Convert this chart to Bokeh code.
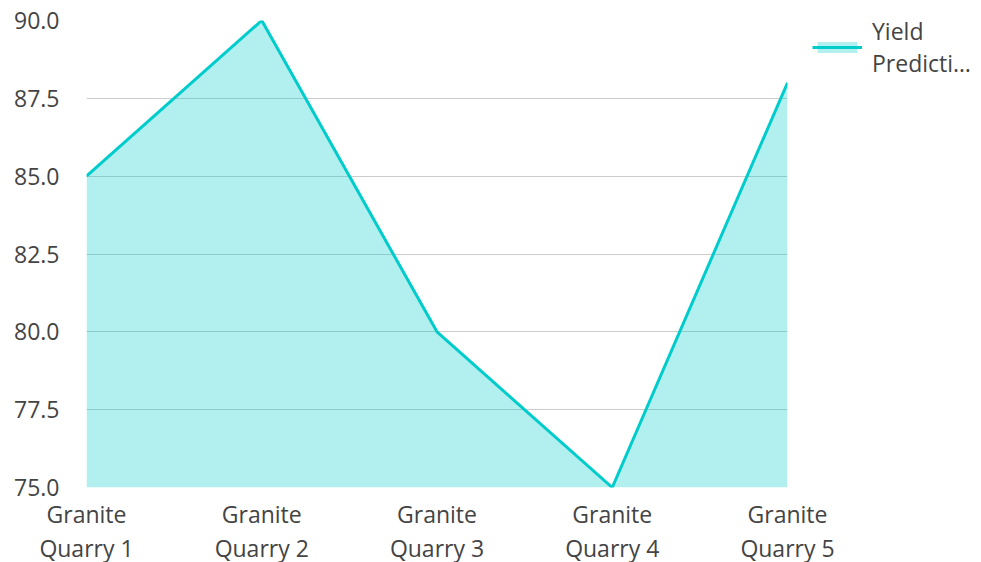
from bokeh.plotting import figure
from bokeh.models import Range1d, FixedTicker, Legend, LegendItem, ColumnDataSource
from bokeh.embed import file_html
from bokeh.resources import INLINE

categories = ["Granite\nQuarry 1", "Granite\nQuarry 2", "Granite\nQuarry 3", "Granite\nQuarry 4", "Granite\nQuarry 5"]
yield_pred = [85, 90, 80, 75, 88]
y_ticks = [75.0, 77.5, 80.0, 82.5, 85.0, 87.5, 90.0]
series_name = "Yield\nPredicti\u2026"

xs = list(range(len(categories)))
src = ColumnDataSource(dict(x=xs, y=yield_pred, base=[y_ticks[0]] * len(xs)))

LINE = "#00CCCC"
FONT = "Open Sans"
TXT = "#444444"
FS = "23px"

p = figure(frame_width=701, frame_height=467, output_backend="svg", toolbar_location=None,
           x_range=Range1d(0, len(xs) - 1), y_range=Range1d(y_ticks[0], y_ticks[-1]),
           min_border_left=86, min_border_top=20, min_border_right=0, min_border_bottom=0)

area = p.varea(x="x", y1="base", y2="y", source=src, fill_color=LINE, fill_alpha=0.3)
line = p.line(x="x", y="y", source=src, line_color=LINE, line_width=3)

p.xgrid.visible = False
p.ygrid.grid_line_color = "#cccccc"
p.ygrid.grid_line_width = 1
p.outline_line_color = None

p.xaxis.ticker = FixedTicker(ticks=xs)
p.xaxis.major_label_overrides = {i: c for i, c in enumerate(categories)}
p.yaxis.ticker = FixedTicker(ticks=y_ticks)
p.yaxis.major_label_overrides = {t: f"{t:.1f}" for t in y_ticks}
for ax in (p.xaxis[0], p.yaxis[0]):
    ax.axis_line_color = None
    ax.major_tick_line_color = None
    ax.minor_tick_line_color = None
    ax.major_label_text_font = FONT
    ax.major_label_text_font_size = FS
    ax.major_label_text_color = TXT
    ax.major_label_text_line_height = 1.07
p.xaxis.major_label_standoff = 4
p.yaxis.major_label_standoff = 21

legend = Legend(items=[LegendItem(label=series_name, renderers=[area, line])],
                location=(25, 408), border_line_color=None, background_fill_alpha=0,
                label_text_font=FONT, label_text_font_size=FS, label_text_color=TXT,
                label_text_line_height=1.07,
                glyph_width=50, glyph_height=14, margin=0, padding=0, spacing=0,
                label_standoff=10, label_height=20)
p.add_layout(legend, "right")

open("out.html", "w").write(file_html(p, INLINE))
